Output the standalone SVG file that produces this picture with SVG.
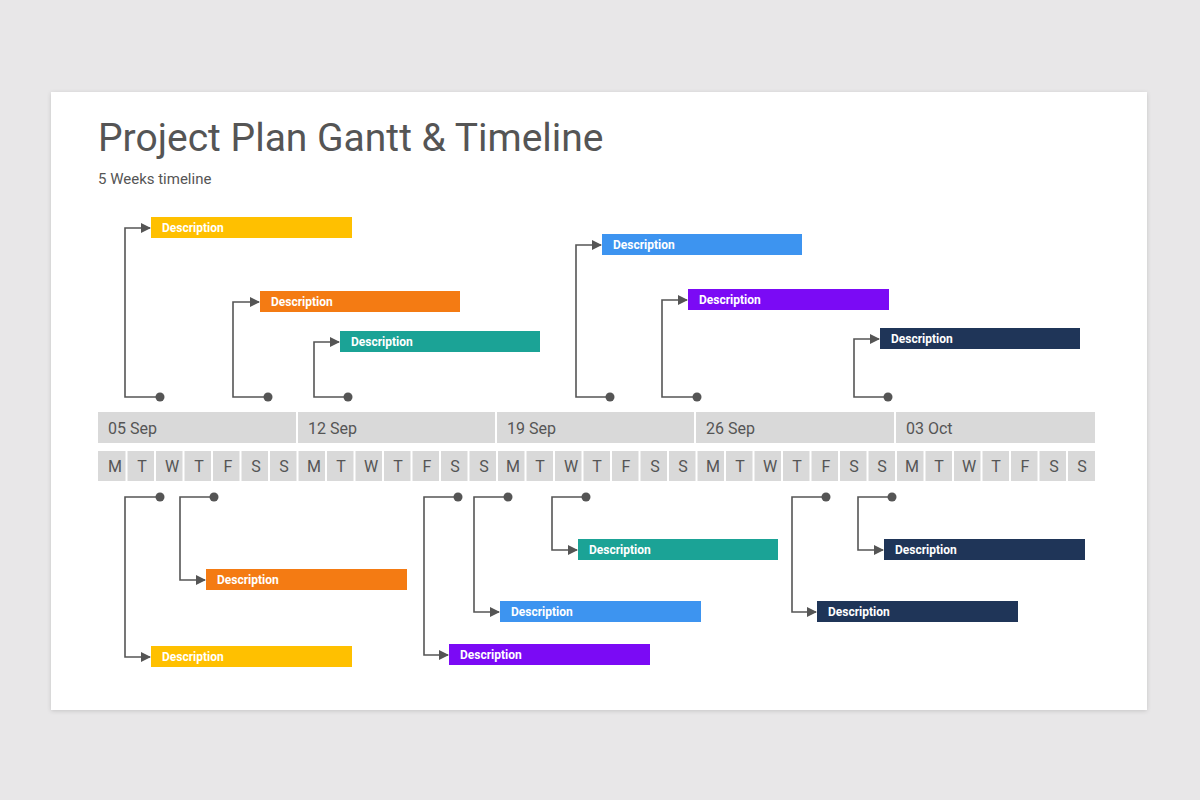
<svg xmlns="http://www.w3.org/2000/svg" width="1200" height="800" viewBox="0 0 1200 800">
<defs>
<marker id="ar" markerWidth="10" markerHeight="10" refX="9" refY="5" orient="auto" markerUnits="userSpaceOnUse"><path d="M0,0 L10,5 L0,10 z" fill="#555"/></marker>
<filter id="sh" x="-5%" y="-5%" width="110%" height="110%"><feDropShadow dx="0" dy="1" stdDeviation="2" flood-color="#000" flood-opacity="0.15"/></filter>
<style>
text{font-family:Roboto,"Open Sans","Liberation Sans",sans-serif}
.bl{font-size:12px;font-weight:bold;fill:#fff}
.wk{fill:#d9d9d9}
.wt{font-size:16px;fill:#555}
.dt{font-size:16px;fill:#555;text-anchor:middle}
.c{fill:none;stroke:#555;stroke-width:1.6}
.d{fill:#555}
</style>
</defs>
<rect width="1200" height="800" fill="#e8e7e8"/>
<rect x="51" y="92" width="1096" height="618" fill="#fff" filter="url(#sh)"/>
<text x="98" y="151" font-size="39" fill="#555">Project Plan Gantt &amp; Timeline</text>
<text x="98" y="184" font-size="15" fill="#555">5 Weeks timeline</text>
<g id="weeks">
<rect class="wk" x="98" y="412" width="198" height="31"/><text class="wt" x="108" y="434">05 Sep</text>
<rect class="wk" x="298" y="412" width="197" height="31"/><text class="wt" x="308" y="434">12 Sep</text>
<rect class="wk" x="497" y="412" width="197" height="31"/><text class="wt" x="507" y="434">19 Sep</text>
<rect class="wk" x="696" y="412" width="198" height="31"/><text class="wt" x="706" y="434">26 Sep</text>
<rect class="wk" x="896" y="412" width="199" height="31"/><text class="wt" x="906" y="434">03 Oct</text>
</g>
<g id="days">
<rect class="wk" x="98" y="451" width="997" height="30"/>
<g stroke="#fff" stroke-width="2">
<line x1="126.5" y1="451" x2="126.5" y2="481"/><line x1="155" y1="451" x2="155" y2="481"/><line x1="183.5" y1="451" x2="183.5" y2="481"/><line x1="212" y1="451" x2="212" y2="481"/><line x1="240.5" y1="451" x2="240.5" y2="481"/><line x1="269" y1="451" x2="269" y2="481"/><line x1="297.5" y1="451" x2="297.5" y2="481"/><line x1="326" y1="451" x2="326" y2="481"/><line x1="354.5" y1="451" x2="354.5" y2="481"/><line x1="383" y1="451" x2="383" y2="481"/><line x1="411.5" y1="451" x2="411.5" y2="481"/><line x1="440" y1="451" x2="440" y2="481"/><line x1="468.5" y1="451" x2="468.5" y2="481"/><line x1="497" y1="451" x2="497" y2="481"/><line x1="525.5" y1="451" x2="525.5" y2="481"/><line x1="554" y1="451" x2="554" y2="481"/><line x1="582.5" y1="451" x2="582.5" y2="481"/><line x1="611" y1="451" x2="611" y2="481"/><line x1="639.5" y1="451" x2="639.5" y2="481"/><line x1="668" y1="451" x2="668" y2="481"/><line x1="696.5" y1="451" x2="696.5" y2="481"/><line x1="725" y1="451" x2="725" y2="481"/><line x1="753.5" y1="451" x2="753.5" y2="481"/><line x1="782" y1="451" x2="782" y2="481"/><line x1="810.5" y1="451" x2="810.5" y2="481"/><line x1="839" y1="451" x2="839" y2="481"/><line x1="867.5" y1="451" x2="867.5" y2="481"/><line x1="896" y1="451" x2="896" y2="481"/><line x1="924.5" y1="451" x2="924.5" y2="481"/><line x1="953" y1="451" x2="953" y2="481"/><line x1="981.5" y1="451" x2="981.5" y2="481"/><line x1="1010" y1="451" x2="1010" y2="481"/><line x1="1038.5" y1="451" x2="1038.5" y2="481"/><line x1="1067" y1="451" x2="1067" y2="481"/>
</g>
<text class="dt" x="115" y="472">M</text><text class="dt" x="142" y="472">T</text><text class="dt" x="172" y="472">W</text><text class="dt" x="199" y="472">T</text><text class="dt" x="228" y="472">F</text><text class="dt" x="256" y="472">S</text><text class="dt" x="284" y="472">S</text>
<text class="dt" x="314" y="472">M</text><text class="dt" x="341" y="472">T</text><text class="dt" x="371" y="472">W</text><text class="dt" x="398" y="472">T</text><text class="dt" x="427" y="472">F</text><text class="dt" x="455" y="472">S</text><text class="dt" x="484" y="472">S</text>
<text class="dt" x="513" y="472">M</text><text class="dt" x="540" y="472">T</text><text class="dt" x="571" y="472">W</text><text class="dt" x="597" y="472">T</text><text class="dt" x="626" y="472">F</text><text class="dt" x="655" y="472">S</text><text class="dt" x="683" y="472">S</text>
<text class="dt" x="713" y="472">M</text><text class="dt" x="740" y="472">T</text><text class="dt" x="770" y="472">W</text><text class="dt" x="797" y="472">T</text><text class="dt" x="826" y="472">F</text><text class="dt" x="854" y="472">S</text><text class="dt" x="882" y="472">S</text>
<text class="dt" x="912" y="472">M</text><text class="dt" x="939" y="472">T</text><text class="dt" x="969" y="472">W</text><text class="dt" x="996" y="472">T</text><text class="dt" x="1025" y="472">F</text><text class="dt" x="1054" y="472">S</text><text class="dt" x="1082" y="472">S</text>
</g>
<g id="connectors">
<path class="c" marker-end="url(#ar)" d="M160,397 H125 V228 H150"/>
<path class="c" marker-end="url(#ar)" d="M268,397 H233 V302 H259"/>
<path class="c" marker-end="url(#ar)" d="M348,397 H314 V342 H339"/>
<path class="c" marker-end="url(#ar)" d="M610,397 H576 V245 H601"/>
<path class="c" marker-end="url(#ar)" d="M697,397 H662 V300 H687"/>
<path class="c" marker-end="url(#ar)" d="M888,397 H854 V339 H879"/>
<path class="c" marker-end="url(#ar)" d="M160,497 H125 V657 H150"/>
<path class="c" marker-end="url(#ar)" d="M214,497 H180 V580 H205"/>
<path class="c" marker-end="url(#ar)" d="M458,497 H424 V655 H448"/>
<path class="c" marker-end="url(#ar)" d="M508,497 H474 V612 H499"/>
<path class="c" marker-end="url(#ar)" d="M586,497 H552 V550 H577"/>
<path class="c" marker-end="url(#ar)" d="M826,497 H792 V612 H816"/>
<path class="c" marker-end="url(#ar)" d="M892,497 H858 V550 H883"/>
<g class="d">
<circle cx="160" cy="397" r="4.5"/><circle cx="268" cy="397" r="4.5"/><circle cx="348" cy="397" r="4.5"/><circle cx="610" cy="397" r="4.5"/><circle cx="697" cy="397" r="4.5"/><circle cx="888" cy="397" r="4.5"/>
<circle cx="160" cy="497" r="4.5"/><circle cx="214" cy="497" r="4.5"/><circle cx="458" cy="497" r="4.5"/><circle cx="508" cy="497" r="4.5"/><circle cx="586" cy="497" r="4.5"/><circle cx="826" cy="497" r="4.5"/><circle cx="892" cy="497" r="4.5"/>
</g>
</g>
<g id="t1"><rect x="151" y="217" width="201" height="21" fill="#FFC000"/><text class="bl" x="162" y="232">Description</text></g>
<g id="t2"><rect x="260" y="291" width="200" height="21" fill="#F47B13"/><text class="bl" x="271" y="306">Description</text></g>
<g id="t3"><rect x="340" y="331" width="200" height="21" fill="#1BA396"/><text class="bl" x="351" y="346">Description</text></g>
<g id="t4"><rect x="602" y="234" width="200" height="21" fill="#3D94F0"/><text class="bl" x="613" y="249">Description</text></g>
<g id="t5"><rect x="688" y="289" width="201" height="21" fill="#7B0AF5"/><text class="bl" x="699" y="304">Description</text></g>
<g id="t6"><rect x="880" y="328" width="200" height="21" fill="#1F3558"/><text class="bl" x="891" y="343">Description</text></g>
<g id="b1"><rect x="151" y="646" width="201" height="21" fill="#FFC000"/><text class="bl" x="162" y="661">Description</text></g>
<g id="b2"><rect x="206" y="569" width="201" height="21" fill="#F47B13"/><text class="bl" x="217" y="584">Description</text></g>
<g id="b3"><rect x="449" y="644" width="201" height="21" fill="#7B0AF5"/><text class="bl" x="460" y="659">Description</text></g>
<g id="b4"><rect x="500" y="601" width="201" height="21" fill="#3D94F0"/><text class="bl" x="511" y="616">Description</text></g>
<g id="b5"><rect x="578" y="539" width="200" height="21" fill="#1BA396"/><text class="bl" x="589" y="554">Description</text></g>
<g id="b6"><rect x="817" y="601" width="201" height="21" fill="#1F3558"/><text class="bl" x="828" y="616">Description</text></g>
<g id="b7"><rect x="884" y="539" width="201" height="21" fill="#1F3558"/><text class="bl" x="895" y="554">Description</text></g>
</svg>
